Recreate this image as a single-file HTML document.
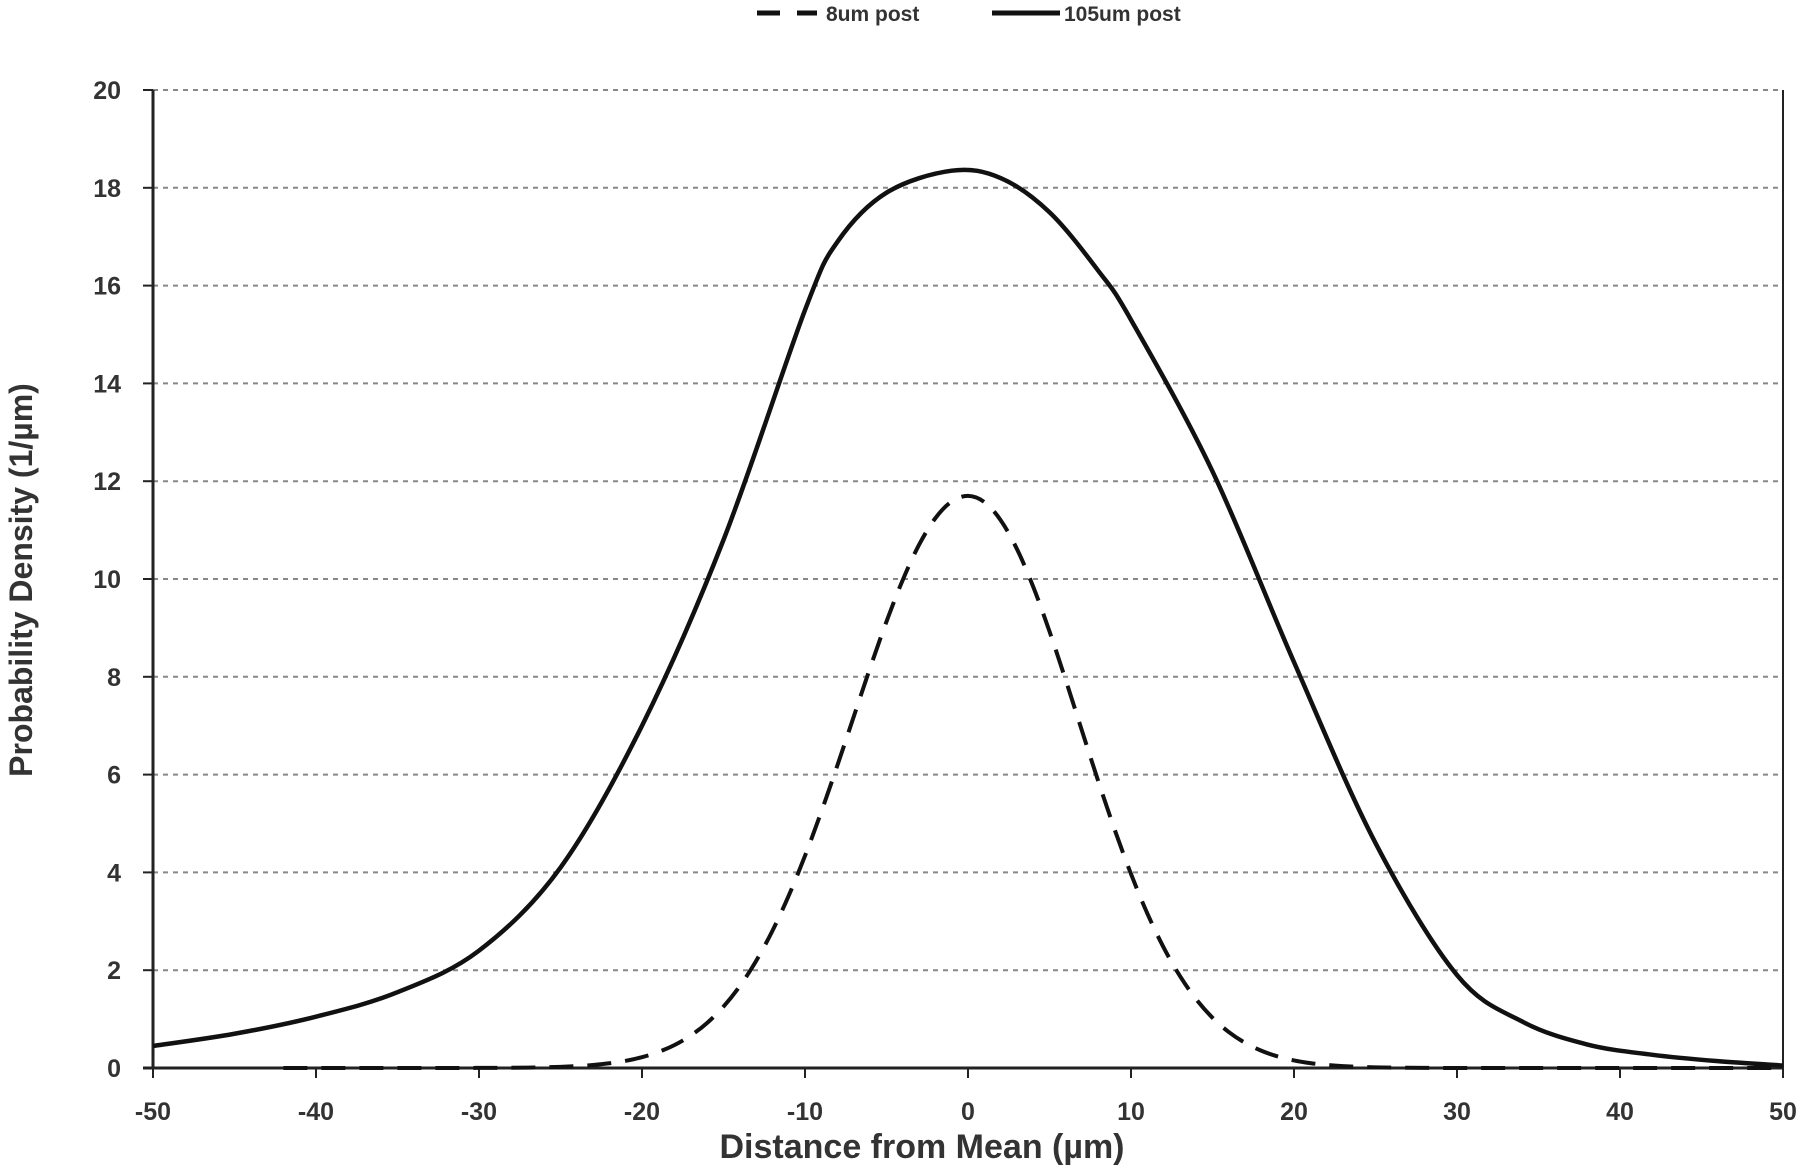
<!DOCTYPE html>
<html><head><meta charset="utf-8"><style>
body{margin:0;background:#fff;}
svg{display:block;font-family:"Liberation Sans",Arial,sans-serif;}
</style></head><body>
<svg id="s" width="1800" height="1170" xmlns="http://www.w3.org/2000/svg">
<rect width="1800" height="1170" fill="#fff"/>
<g id="grid"></g>
<line x1="153" y1="90" x2="153" y2="1068" stroke="#222" stroke-width="3"/>
<line x1="1783" y1="90" x2="1783" y2="1068" stroke="#222" stroke-width="2"/>
<line x1="143" y1="1068" x2="1783" y2="1068" stroke="#222" stroke-width="3"/>
<g id="ticks"></g>
<path id="dash" fill="none" stroke="#111" stroke-width="4" stroke-dasharray="24,14"/>
<path id="solid" fill="none" stroke="#111" stroke-width="4.5"/>
<line x1="757" y1="13" x2="780" y2="13" stroke="#111" stroke-width="5"/>
<line x1="797" y1="13" x2="817" y2="13" stroke="#111" stroke-width="5"/>
<text x="826" y="21" font-size="21" font-weight="bold" fill="#333">8um post</text>
<line x1="992" y1="13" x2="1060" y2="13" stroke="#111" stroke-width="5"/>
<text x="1064" y="21" font-size="21" font-weight="bold" fill="#333">105um post</text>
<text x="922" y="1158" font-size="34" font-weight="bold" fill="#333" text-anchor="middle">Distance from Mean (µm)</text>
<text transform="translate(32,580) rotate(-90)" font-size="32" font-weight="bold" fill="#333" text-anchor="middle">Probability Density (1/µm)</text>
</svg>
<script>
var NS="http://www.w3.org/2000/svg";
function X(v){return 153+(v+50)*16.3;}
function Y(v){return 1068-v*48.9;}
function el(p,t,a,txt){var e=document.createElementNS(NS,t);for(var k in a)e.setAttribute(k,a[k]);if(txt!==undefined)e.textContent=txt;document.getElementById(p).appendChild(e);}
for(var v=2;v<=20;v+=2){el("grid","line",{x1:153,x2:1783,y1:Y(v),y2:Y(v),stroke:"#888","stroke-width":2,"stroke-dasharray":"5,5"});}
for(var v=0;v<=20;v+=2){el("ticks","line",{x1:143,x2:153,y1:Y(v),y2:Y(v),stroke:"#222","stroke-width":2});
el("ticks","text",{x:121,y:Y(v)+9,"font-size":25,"font-weight":"bold","fill":"#333","text-anchor":"end"},v);}
for(var v=-50;v<=50;v+=10){el("ticks","line",{x1:X(v),x2:X(v),y1:1068,y2:1078,stroke:"#222","stroke-width":2});
el("ticks","text",{x:X(v),y:1120,"font-size":25,"font-weight":"bold","fill":"#333","text-anchor":"middle"},v);}
function cr(pts){var d="M"+pts[0][0]+","+pts[0][1];for(var i=0;i<pts.length-1;i++){var p0=pts[i-1]||pts[i],p1=pts[i],p2=pts[i+1],p3=pts[i+2]||p2;
d+=" C"+(p1[0]+(p2[0]-p0[0])/6)+","+(p1[1]+(p2[1]-p0[1])/6)+" "+(p2[0]-(p3[0]-p1[0])/6)+","+(p2[1]-(p3[1]-p1[1])/6)+" "+p2[0]+","+p2[1];}return d;}
var s=[[-50,0.45],[-45,0.7],[-40,1.05],[-35,1.55],[-30,2.4],[-25,4.1],[-20,7.0],[-15,10.8],[-10,15.5],[-8,16.9],[-5,17.9],[-1,18.35],[2,18.2],[5,17.5],[8,16.3],[10,15.3],[15,12.2],[20,8.3],[25,4.6],[30,1.9],[34,0.95],[38,0.48],[42,0.27],[46,0.14],[50,0.05]];
document.getElementById("solid").setAttribute("d",cr(s.map(function(p){return[X(p[0]),Y(p[1])];})));
var d=[];for(var x=-42;x<=50;x+=1){var sg=x<0?7.1:6.8;d.push([X(x),Y(11.7*Math.exp(-x*x/(2*sg*sg)))]);}
document.getElementById("dash").setAttribute("d",cr(d));
</script>
</body></html>
